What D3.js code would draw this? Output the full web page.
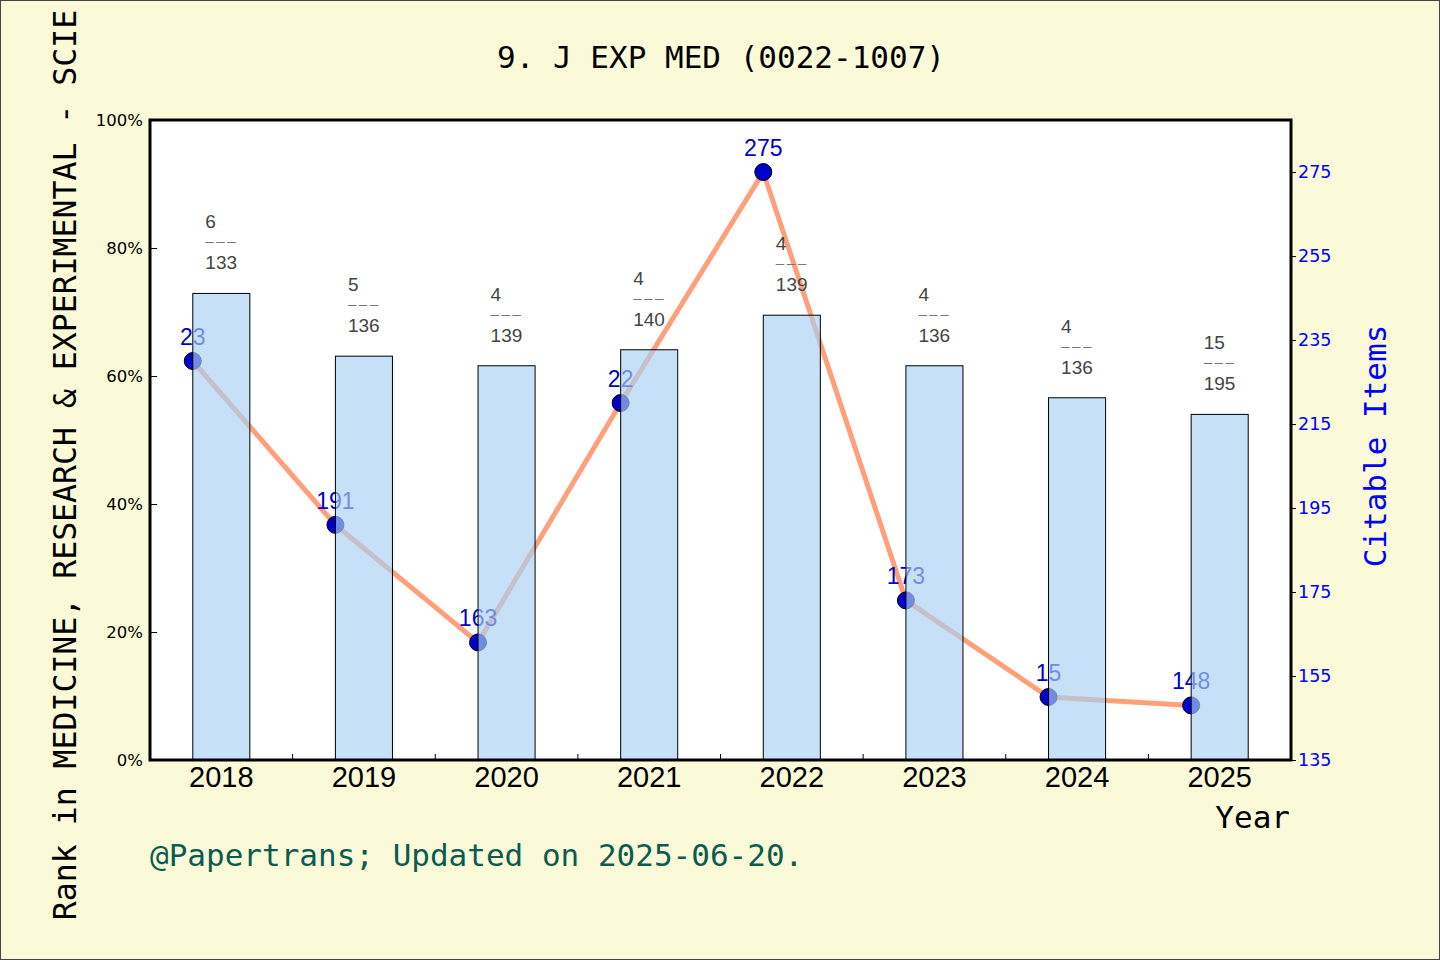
<!DOCTYPE html>
<html>
<head>
<meta charset="utf-8">
<script src="https://cdn.jsdelivr.net/npm/d3@7.9.0/dist/d3.min.js"></script>
<style>
  body { margin: 0; background: #fafad8; }
  svg { display: block; }
</style>
</head>
<body>
<svg id="chart" width="1440" height="960"></svg>
<script>
// data
const years = ['2018', '2019', '2020', '2021', '2022', '2023', '2024', '2025'];
const barPct = [72.9, 63.1, 61.6, 64.1, 69.5, 61.6, 56.6, 54.0];
const rankNum = [6, 5, 4, 4, 4, 4, 4, 15];
const rankTotal = [133, 136, 139, 140, 139, 136, 136, 195];
const citable = [230, 191, 163, 220, 275, 173, 150, 148];
const pctTicks = [0, 20, 40, 60, 80, 100];
const citTicks = [135, 155, 175, 195, 215, 235, 255, 275];

const mono = '"DejaVu Sans Mono", monospace';
const sans = '"DejaVu Sans", sans-serif';

const svg = d3.select('#chart');
const pLeft = 150, pRight = 1291, pTop = 120, pBottom = 760;

svg.append('rect').attr('x', 0.5).attr('y', 0.5).attr('width', 1439).attr('height', 959)
  .attr('fill', '#fafad8').attr('stroke', '#444');
svg.append('rect').attr('x', pLeft).attr('y', pTop)
  .attr('width', pRight - pLeft).attr('height', pBottom - pTop).attr('fill', '#fff');

let x = d3.scaleBand().domain(years).range([pLeft, pRight]);
let yPct = d3.scaleLinear().domain([0, 100]).range([pBottom, pTop]);
let yCit = d3.scaleLinear().domain([135, 287.4]).range([pBottom, pTop]);
let bw = x.bandwidth();
let pointX = (d) => x(d) + bw * 0.3;

// line + points first, bars go over them translucent
let line = d3.line().x((d, i) => pointX(years[i])).y((d) => yCit(d));
svg.append('path').datum(citable).attr('d', line)
  .attr('fill', 'none').attr('stroke', '#ffa07a').attr('stroke-width', 5);

svg.selectAll('circle.pt').data(citable).join('circle')
  .attr('cx', (d, i) => pointX(years[i])).attr('cy', (d) => yCit(d)).attr('r', 8.5)
  .attr('fill', '#0000cc').attr('stroke', '#000').attr('stroke-width', 1);

// the original label formatter drops trailing zeros
svg.selectAll('text.pt').data(citable).join('text')
  .attr('x', (d, i) => pointX(years[i])).attr('y', (d) => yCit(d) - 16)
  .attr('text-anchor', 'middle').attr('fill', '#0000cc')
  .style('font-family', '"Liberation Sans", sans-serif').style('font-size', '23px')
  .text((d) => String(d).replace(/0+$/, ''));

svg.selectAll('rect.bar').data(barPct).join('rect')
  .attr('x', (d, i) => x(years[i]) + bw * 0.3).attr('width', bw * 0.4)
  .attr('y', (d) => yPct(d)).attr('height', (d) => pBottom - yPct(d))
  .attr('fill', 'rgb(168,208,243)').attr('fill-opacity', 0.667)
  .attr('stroke', '#000').attr('stroke-width', 1);

// rank fractions above bars
barPct.forEach((d, i) => {
  let cx = x(years[i]) + bw / 2 - 16;
  let ty = yPct(d);
  let g = svg.append('g').attr('fill', '#444');
  g.append('text').attr('x', cx).attr('y', ty - 65)
    .style('font-family', '"Liberation Sans", sans-serif').style('font-size', '19px').text(rankNum[i]);
  g.append('text').attr('x', cx).attr('y', ty - 47).attr('fill', '#777')
    .style('font-family', mono).style('font-size', '14px').style('letter-spacing', '2.5px').text('–––');
  g.append('text').attr('x', cx).attr('y', ty - 24)
    .style('font-family', '"Liberation Sans", sans-serif').style('font-size', '19px').text(rankTotal[i]);
});

// frame
svg.append('rect').attr('x', pLeft).attr('y', pTop)
  .attr('width', pRight - pLeft).attr('height', pBottom - pTop)
  .attr('fill', 'none').attr('stroke', '#000').attr('stroke-width', 3);

// left axis (inward ticks)
let leftAxis = d3.axisLeft(yPct).tickValues(pctTicks).tickSizeInner(-7).tickSizeOuter(0)
  .tickPadding(7).tickFormat((d) => d + '%');
let gl = svg.append('g').attr('transform', `translate(${pLeft},0)`).call(leftAxis);
gl.select('.domain').remove();
gl.selectAll('text').style('font-family', sans).style('font-size', '16.5px').attr('fill', '#000');

// right axis
let rightAxis = d3.axisRight(yCit).tickValues(citTicks).tickSizeInner(5).tickSizeOuter(0).tickPadding(2);
let gr = svg.append('g').attr('transform', `translate(${pRight},0)`).call(rightAxis);
gr.select('.domain').remove();
gr.selectAll('line').attr('stroke', '#000');
gr.selectAll('text').style('font-family', sans).style('font-size', '17.5px').attr('fill', '#0000ff');

// bottom axis: labels at band centres, inward ticks at band edges
let gb = svg.append('g').attr('transform', `translate(0,${pBottom})`)
  .call(d3.axisBottom(x).tickSize(0).tickPadding(6));
gb.select('.domain').remove();
gb.selectAll('text').style('font-family', '"Liberation Sans", sans-serif').style('font-size', '29px').attr('fill', '#000');
svg.selectAll('line.xt').data(years.slice(1)).join('line')
  .attr('x1', (d) => x(d)).attr('x2', (d) => x(d))
  .attr('y1', pBottom).attr('y2', pBottom - 6).attr('stroke', '#000').attr('stroke-width', 1);

// titles
svg.append('text').attr('x', 721).attr('y', 68).attr('text-anchor', 'middle')
  .style('font-family', mono).style('font-size', '31px').attr('fill', '#000')
  .text('9. J EXP MED (0022-1007)');

svg.append('text').attr('transform', 'translate(76,465) rotate(-90)').attr('text-anchor', 'middle')
  .style('font-family', mono).style('font-size', '31.5px').attr('fill', '#000')
  .text('Rank in MEDICINE, RESEARCH & EXPERIMENTAL - SCIE');

svg.append('text').attr('transform', 'translate(1386,446) rotate(-90)').attr('text-anchor', 'middle')
  .style('font-family', mono).style('font-size', '31px').attr('fill', '#0000ff')
  .text('Citable Items');

svg.append('text').attr('x', 1290).attr('y', 828).attr('text-anchor', 'end')
  .style('font-family', mono).style('font-size', '31px').attr('fill', '#000')
  .text('Year');

svg.append('text').attr('x', 150).attr('y', 866)
  .style('font-family', mono).style('font-size', '31px').attr('fill', '#0b5b50')
  .text('@Papertrans; Updated on 2025-06-20.');
</script>
</body>
</html>
